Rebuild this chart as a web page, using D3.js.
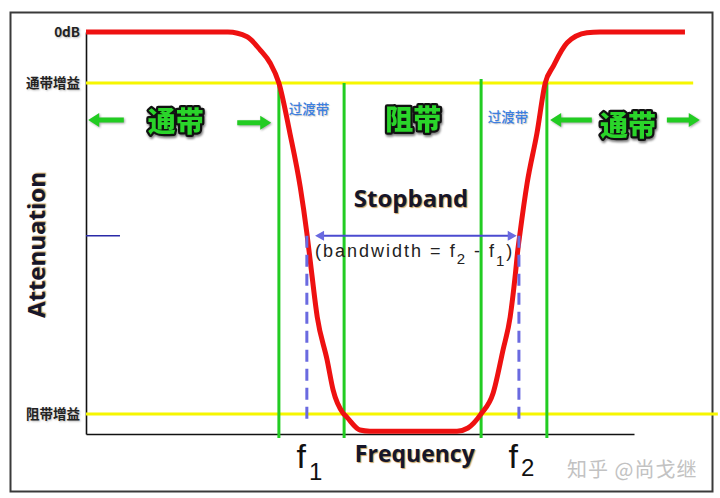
<!DOCTYPE html>
<html lang="zh">
<head>
<meta charset="UTF-8">
<title>stopband</title>
<style>
    body { margin: 0; background: #fff; }
    svg { display: block; }
    .cn { font-family: "Noto Sans CJK SC", sans-serif; }
    .en { font-family: "Open Sans", sans-serif; font-weight: 700; fill: #16162a; }
    .ar { font-family: "Liberation Sans", Arial, sans-serif; }
</style>
</head>
<body>
<script src="https://cdn.jsdelivr.net/npm/d3@7"></script>
<div id="chart"></div>
<script>
// red attenuation curve (frequency 0-100 along the axis, attenuation 0-100 down the axis)
var freq = [0, 25.9, 29.4, 31.8, 33.6, 35.2, 37.2, 39.1, 40.3, 40.9,
    42.2, 44.0, 45.1, 46.9, 47.6, 50.0, 51.8, 67.7, 69.7, 72.1,
    74.3, 76.1, 77.4, 78.3, 78.8, 79.2, 80.5, 82.3, 83.8, 85.2,
    87.8, 91.4, 93.8, 109.3];
var atten = [0, 0, 1.2, 4.5, 7.7, 12.7, 25.1, 38.6, 50.0, 56.7,
    70.9, 81.6, 89.1, 94.8, 95.8, 99.0, 99.3, 99.3, 98.5, 95.0,
    89.8, 79.1, 70.9, 60.9, 54.2, 50.0, 37.6, 25.1, 12.7, 8.7,
    2.7, 0.2, 0, 0];

// gain levels on the y axis
var levelNames = ["0dB", "通带增益", "阻带增益"];
var levelValues = [0, 12.7, 95];
var levelEnds = [null, 110.8, 115.3];   // how far the yellow lines run

// band edges (green) and cutoff frequencies (dashed)
var edges = [35.2, 47.1, 72.1, 84.1];
var edgeTops = [12.7, 12.7, 11.7, 12.7];
var edgeBottom = 101;
var cutoffs = [40.3, 79.0];
var cutoffSubs = ["1", "2"];
var bandwidthLevel = 50.7;
var dashBottom = 97.5;

var margin = { top: 32, left: 86 },
    width = 548, height = 402;

var svg = d3.select("#chart").append("svg")
    .attr("width", 720).attr("height", 498);

// outer frame
svg.append("rect")
    .attr("x", 10.5).attr("y", 12.5)
    .attr("width", 702).attr("height", 479)
    .attr("fill", "none").attr("stroke", "#3a3a3a").attr("stroke-width", 2);

var x = d3.scaleLinear().domain([0, 100]).range([margin.left, margin.left + width]);
var y = d3.scaleLinear().domain([0, 100]).range([margin.top, margin.top + height]);

// axes
var yAxis = svg.append("g")
    .attr("transform", "translate(" + margin.left + ",0)")
    .call(d3.axisLeft(y).tickValues(levelValues)
        .tickFormat(function (d, i) { return levelNames[i]; })
        .tickSize(0).tickPadding(6));
yAxis.select(".domain").attr("stroke", "#111").attr("stroke-width", 1.6);
yAxis.selectAll("text")
    .attr("class", "cn")
    .style("font-size", "13.5px").style("font-weight", 700).attr("fill", "#222")
    .style("text-shadow", "1px 1px 2px #bbb");

var xAxis = svg.append("g")
    .attr("transform", "translate(0," + (margin.top + height) + ")")
    .call(d3.axisBottom(x).tickValues(cutoffs).tickFormat("").tickSize(0));
xAxis.select(".domain").attr("stroke", "#111").attr("stroke-width", 1.6);
xAxis.selectAll(".tick text")
    .attr("class", "ar")
    .attr("y", 34).attr("dy", 0).attr("dx", 2)
    .attr("fill", "#111")
    .style("font-size", "34px")
    .each(function (d, i) {
        var t = d3.select(this);
        t.append("tspan").text("f");
        t.append("tspan").attr("dx", 3).attr("dy", i === 0 ? 12 : 8)
            .style("font-size", "24px").text(cutoffSubs[i]);
    });

// gain lines
levelValues.forEach(function (v, i) {
    if (levelEnds[i] === null) return;
    svg.append("line")
        .attr("x1", x(0)).attr("x2", x(levelEnds[i]))
        .attr("y1", y(v)).attr("y2", y(v))
        .attr("stroke", "#f6f600").attr("stroke-width", 3);
});

// band edges
svg.selectAll(".edge").data(edges).enter().append("line")
    .attr("class", "edge")
    .attr("x1", function (d) { return x(d); }).attr("x2", function (d) { return x(d); })
    .attr("y1", function (d, i) { return y(edgeTops[i]); })
    .attr("y2", y(edgeBottom))
    .attr("stroke", "#22cc22").attr("stroke-width", 3);

// short marker on y axis
svg.append("line")
    .attr("x1", x(0)).attr("x2", x(6.2))
    .attr("y1", y(bandwidthLevel)).attr("y2", y(bandwidthLevel))
    .attr("stroke", "#2a2aa8").attr("stroke-width", 1.5);

// response curve
var pts = freq.map(function (f, i) { return [f, atten[i]]; });
svg.append("path")
    .datum(pts)
    .attr("fill", "none")
    .attr("stroke", "#ee1111")
    .attr("stroke-width", 5)
    .attr("stroke-linejoin", "round")
    .attr("d", d3.line()
        .x(function (d) { return x(d[0]); })
        .y(function (d) { return y(d[1]); })
        .curve(d3.curveMonotoneX));

// cutoff dashed lines
svg.selectAll(".cut").data(cutoffs).enter().append("line")
    .attr("class", "cut")
    .attr("x1", function (d) { return x(d); }).attr("x2", function (d) { return x(d); })
    .attr("y1", y(bandwidthLevel)).attr("y2", y(dashBottom))
    .attr("stroke", "#6a6ae0").attr("stroke-width", 3)
    .attr("stroke-dasharray", "12,7");

// bandwidth arrow
var bx0 = x(41.8), bx1 = x(78.6), by = y(bandwidthLevel);
svg.append("line")
    .attr("x1", bx0 + 6).attr("x2", bx1 - 6).attr("y1", by).attr("y2", by)
    .attr("stroke", "#4b4bd0").attr("stroke-width", 2);
svg.append("path")
    .attr("d", "M" + bx0 + "," + by + "l9,-5v10z M" + bx1 + "," + by + "l-9,-5v10z")
    .attr("fill", "#6a6ae0");

// big green arrows
function arrow(t, h, v) {
    var x0 = x(t), x1 = x(h), yy = y(v), s = x1 > x0 ? 1 : -1;
    var hx = x1 - s * 11;
    return "M" + x0 + "," + (yy - 2.5) + "L" + hx + "," + (yy - 2.5) + "L" + hx + "," + (yy - 7) +
        "L" + x1 + "," + yy + "L" + hx + "," + (yy + 7) + "L" + hx + "," + (yy + 2.5) +
        "L" + x0 + "," + (yy + 2.5) + "Z";
}
[[6.9, 0.4, 21.9], [27.6, 33.8, 22.6], [92.3, 84.7, 21.9], [106, 112, 21.9]].forEach(function (a) {
    svg.append("path").attr("d", arrow(a[0], a[1], a[2]))
        .attr("fill", "#22cc22")
        .style("filter", "drop-shadow(1px 1px 1px rgba(0,0,0,0.35))");
});

// band labels
[["通带", 16.4, 21.9], ["阻带", 59.7, 21.4], ["通带", 98.9, 22.9]].forEach(function (b) {
    svg.append("text").attr("class", "cn")
        .attr("x", x(b[1])).attr("y", y(b[2]))
        .attr("text-anchor", "middle").attr("dominant-baseline", "central")
        .style("font-size", "28px").style("font-weight", 900)
        .attr("fill", "#2ad52a").attr("stroke", "#111").attr("stroke-width", 4.5)
        .attr("stroke-linejoin", "round").attr("paint-order", "stroke")
        .style("filter", "drop-shadow(1px 2px 1px rgba(0,0,0,0.5))")
        .text(b[0]);
});
[[40.7, 18.9], [77.0, 20.9]].forEach(function (b) {
    svg.append("text").attr("class", "cn")
        .attr("x", x(b[0])).attr("y", y(b[1]))
        .attr("text-anchor", "middle").attr("dominant-baseline", "central")
        .style("font-size", "13.5px").style("font-weight", 500)
        .attr("fill", "#3d7fe0")
        .style("text-shadow", "1px 1px 1px #ccc")
        .text("过渡带");
});

// text annotations
svg.append("text").attr("class", "en")
    .attr("x", x(59.3)).attr("y", y(43.5))
    .attr("text-anchor", "middle")
    .style("font-size", "24px").style("text-shadow", "1px 1px 1px #c8a060")
    .text("Stopband");

var bw = svg.append("text").attr("class", "ar")
    .attr("x", bx0).attr("y", y(55.9))
    .attr("fill", "#222")
    .style("font-size", "18px").style("letter-spacing", "2px");
bw.append("tspan").text("(bandwidth = f");
bw.append("tspan").attr("dy", 7).style("font-size", "15px").text("2");
bw.append("tspan").attr("dy", -7).text(" - f");
bw.append("tspan").attr("dy", 9).style("font-size", "15px").text("1");
bw.append("tspan").attr("dy", -9).text(")");

svg.append("text").attr("class", "en")
    .attr("x", x(60)).attr("y", margin.top + height + 28)
    .attr("text-anchor", "middle")
    .style("font-size", "23px").style("text-shadow", "1px 1px 1px #c8a060")
    .text("Frequency");

svg.append("text").attr("class", "en")
    .attr("transform", "translate(45," + y(53) + ") rotate(-90)")
    .attr("text-anchor", "middle")
    .style("font-size", "24px").style("text-shadow", "1px 1px 1px #c8a060")
    .text("Attenuation");

// watermark
svg.append("text").attr("class", "cn")
    .attr("x", 567).attr("y", 468)
    .attr("dominant-baseline", "central")
    .style("font-size", "20px").style("letter-spacing", "1px")
    .attr("fill", "#c2c2c2")
    .text("知乎 @尚戈继");
</script>
</body>
</html>
